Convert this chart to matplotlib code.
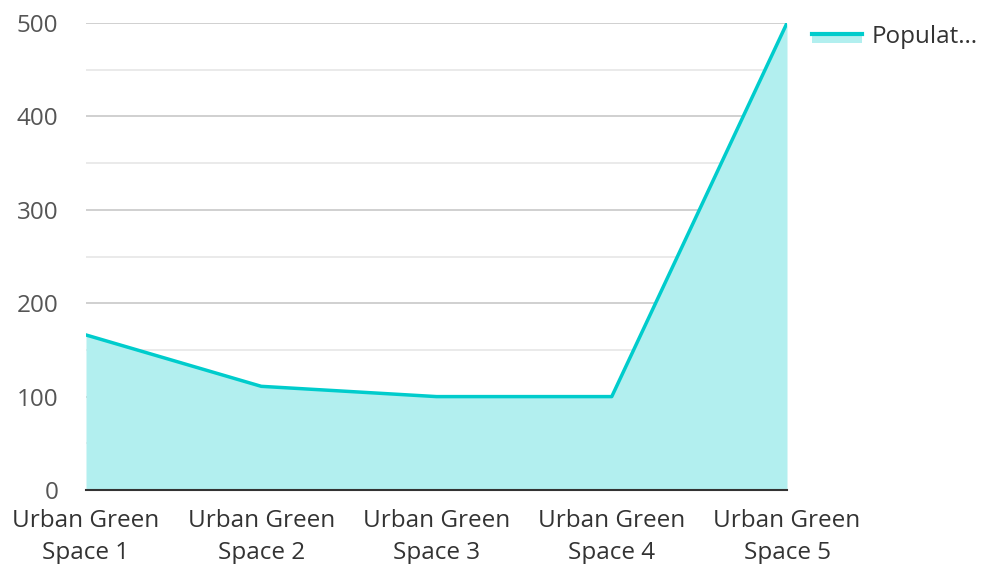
import matplotlib
matplotlib.use("Agg")
import matplotlib.pyplot as plt
from matplotlib.lines import Line2D
from matplotlib.legend_handler import HandlerBase
from matplotlib.patches import Rectangle
import numpy as np

categories = ["Urban Green\nSpace 1", "Urban Green\nSpace 2", "Urban Green\nSpace 3",
              "Urban Green\nSpace 4", "Urban Green\nSpace 5"]
values = [166, 111, 100, 100, 500]
series_name = "Populat…"
yticks = [0, 100, 200, 300, 400, 500]

plt.rcParams['font.family'] = ['Open Sans', 'DejaVu Sans']

fig = plt.figure(figsize=(9.84, 5.64), dpi=100)
ax = fig.add_axes([86/984, 1-490/564, (787-86)/984, (490-23)/564])

x = np.arange(len(categories))
line_color = "#00CCCC"
fill_color = "#B2EFEF"
FS = 17.5
ax.fill_between(x, values, 0, color=fill_color, lw=0, zorder=2)
ax.plot(x, values, color=line_color, lw=2.5, zorder=3, solid_joinstyle='round')

ax.set_xlim(0, len(categories)-1)
ax.set_ylim(0, 500)
ax.set_yticks(yticks)
ax.set_yticks([50, 150, 250, 350, 450], minor=True)
ax.yaxis.grid(True, which='major', color="#C8C8C8", lw=1.2, zorder=4)
ax.yaxis.grid(True, which='minor', color="#E6E6E6", lw=1.2, zorder=1)
ax.set_xticks(x)
ax.set_xticklabels(categories, fontsize=FS, color="#333333", linespacing=1.42)
ax.tick_params(axis='y', labelsize=FS, labelcolor="#555555", length=0, pad=20)
ax.tick_params(axis='x', length=0, pad=14)
ax.tick_params(which='minor', length=0)
for s in ['top', 'right', 'left']:
    ax.spines[s].set_visible(False)
ax.spines['bottom'].set_color("#333333")
ax.spines['bottom'].set_linewidth(1.5)
ax.spines['bottom'].set_zorder(5)

class Handler(HandlerBase):
    def create_artists(self, legend, orig_handle, xdescent, ydescent, width, height, fontsize, trans):
        r = Rectangle((-xdescent, -ydescent), width, height*0.55, facecolor=fill_color, lw=0, transform=trans)
        l = Line2D([-xdescent, -xdescent+width], [-ydescent+height*0.55]*2, color=line_color, lw=3, transform=trans)
        return [r, l]

leg = fig.legend([object()], [series_name], handler_map={object: Handler()},
                 loc='upper left', bbox_to_anchor=(812/984, 1-25/564), frameon=False,
                 fontsize=FS, handlelength=2.05, handletextpad=0.42, borderpad=0, borderaxespad=0)
for t in leg.get_texts():
    t.set_color("#333333")

fig.savefig("out.png", dpi=100)
